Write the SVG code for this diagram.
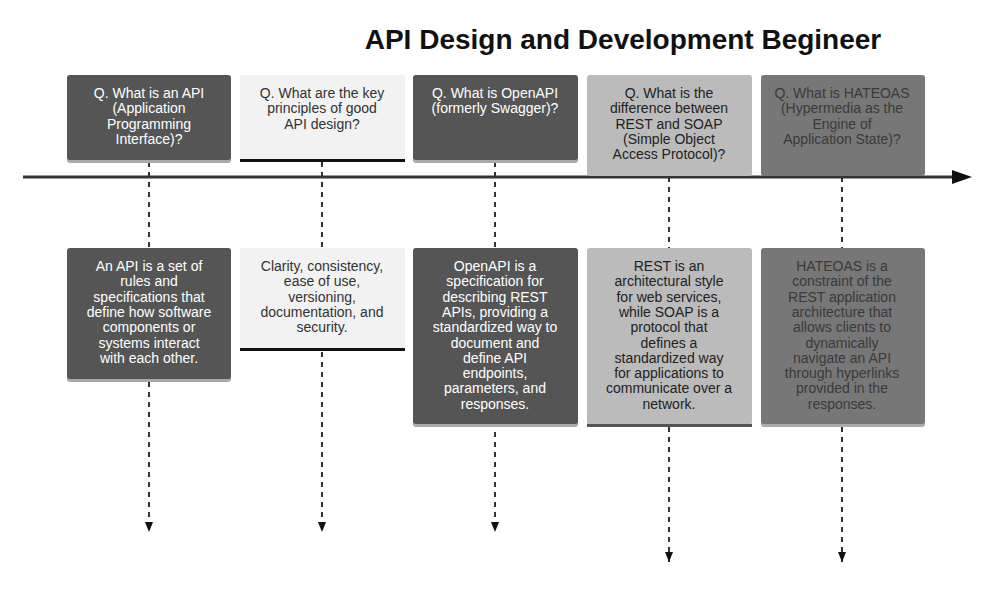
<svg xmlns="http://www.w3.org/2000/svg" width="996" height="590" viewBox="0 0 996 590">
<style>
.t{font-family:"Liberation Sans",Arial,sans-serif;font-size:14px;text-anchor:middle}
.w{fill:#ffffff}.k{fill:#333333}.k2{fill:#222222}.k3{fill:#3a3a3a}
.title{font-family:"Liberation Sans",Arial,sans-serif;font-size:28px;font-weight:bold;fill:#111}
.dash{stroke:#333;stroke-width:2;stroke-dasharray:5,5;fill:none}
.dk{fill:#555555}.lt{fill:#f2f2f2}.md{fill:#bbbbbb}.mg{fill:#777777}
.sh{fill:#aaaaaa}
</style>
<defs>
<marker id="ah" markerWidth="10" markerHeight="8" refX="10" refY="4" orient="auto" markerUnits="userSpaceOnUse" viewBox="0 0 10 8">
<path d="M0,0 L10,4 L0,8 Z" fill="#111"/>
</marker>
</defs>
<rect width="996" height="590" fill="#fff"/>
<text class="title" x="623" y="49" text-anchor="middle">API Design and Development Begineer</text>
<g id="connectors">
<line class="dash" x1="149" y1="162" x2="149" y2="532" marker-end="url(#ah)"/>
<line class="dash" x1="322" y1="162" x2="322" y2="532" marker-end="url(#ah)"/>
<line class="dash" x1="495" y1="162" x2="495" y2="532" marker-end="url(#ah)"/>
<line class="dash" x1="669" y1="177" x2="669" y2="562" marker-end="url(#ah)"/>
<line class="dash" x1="842" y1="177" x2="842" y2="562" marker-end="url(#ah)"/>
</g>
<g id="axis">
<line x1="23" y1="177" x2="955" y2="177" stroke="#333" stroke-width="3"/>
<path d="M952,170 L972,177 L952,184 Z" fill="#111"/>
</g>
<g id="q1">
<rect class="sh" x="67" y="76" width="164" height="87" rx="3"/>
<rect class="dk" x="67" y="75" width="164" height="85" rx="3"/>
<text class="t w" x="149" y="98">Q. What is an API<tspan x="149" dy="15.3">(Application</tspan><tspan x="149" dy="15.3">Programming</tspan><tspan x="149" dy="15.3">Interface)?</tspan></text>
</g>
<g id="q2">
<rect class="lt" x="240" y="75" width="165" height="86" rx="3"/>
<rect x="240" y="159" width="165" height="3" fill="#111"/>
<text class="t k" x="322" y="98">Q. What are the key<tspan x="322" dy="15.3">principles of good</tspan><tspan x="322" dy="15.3">API design?</tspan></text>
</g>
<g id="q3">
<rect class="sh" x="413" y="76" width="165" height="87" rx="3"/>
<rect class="dk" x="413" y="75" width="165" height="85" rx="3"/>
<text class="t w" x="495" y="98">Q. What is OpenAPI<tspan x="495" dy="15.3">(formerly Swagger)?</tspan></text>
</g>
<g id="q4">
<rect class="md" x="587" y="75" width="165" height="101" rx="3"/>
<text class="t k2" x="669" y="98">Q. What is the<tspan x="669" dy="15.3">difference between</tspan><tspan x="669" dy="15.3">REST and SOAP</tspan><tspan x="669" dy="15.3">(Simple Object</tspan><tspan x="669" dy="15.3">Access Protocol)?</tspan></text>
</g>
<g id="q5">
<rect class="mg" x="761" y="75" width="164" height="101" rx="3"/>
<text class="t k3" x="842" y="98">Q. What is HATEOAS<tspan x="842" dy="15.3">(Hypermedia as the</tspan><tspan x="842" dy="15.3">Engine of</tspan><tspan x="842" dy="15.3">Application State)?</tspan></text>
</g>
<g id="a1">
<rect class="sh" x="67" y="249" width="164" height="133" rx="3"/>
<rect class="dk" x="67" y="248" width="164" height="131" rx="3"/>
<text class="t w" x="149" y="271">An API is a set of<tspan x="149" dy="15.3">rules and</tspan><tspan x="149" dy="15.3">specifications that</tspan><tspan x="149" dy="15.3">define how software</tspan><tspan x="149" dy="15.3">components or</tspan><tspan x="149" dy="15.3">systems interact</tspan><tspan x="149" dy="15.3">with each other.</tspan></text>
</g>
<g id="a2">
<rect class="lt" x="240" y="248" width="165" height="102" rx="3"/>
<rect x="240" y="348" width="165" height="3" fill="#111"/>
<text class="t k" x="322" y="271">Clarity, consistency,<tspan x="322" dy="15.3">ease of use,</tspan><tspan x="322" dy="15.3">versioning,</tspan><tspan x="322" dy="15.3">documentation, and</tspan><tspan x="322" dy="15.3">security.</tspan></text>
</g>
<g id="a3">
<rect class="sh" x="413" y="249" width="165" height="178" rx="3"/>
<rect class="dk" x="413" y="248" width="165" height="176" rx="3"/>
<text class="t w" x="495" y="271">OpenAPI is a<tspan x="495" dy="15.3">specification for</tspan><tspan x="495" dy="15.3">describing REST</tspan><tspan x="495" dy="15.3">APIs, providing a</tspan><tspan x="495" dy="15.3">standardized way to</tspan><tspan x="495" dy="15.3">document and</tspan><tspan x="495" dy="15.3">define API</tspan><tspan x="495" dy="15.3">endpoints,</tspan><tspan x="495" dy="15.3">parameters, and</tspan><tspan x="495" dy="15.3">responses.</tspan></text>
</g>
<g id="a4">
<rect class="md" x="587" y="248" width="165" height="177" rx="3"/>
<rect x="587" y="424" width="165" height="3" fill="#555"/>
<text class="t k2" x="669" y="271">REST is an<tspan x="669" dy="15.3">architectural style</tspan><tspan x="669" dy="15.3">for web services,</tspan><tspan x="669" dy="15.3">while SOAP is a</tspan><tspan x="669" dy="15.3">protocol that</tspan><tspan x="669" dy="15.3">defines a</tspan><tspan x="669" dy="15.3">standardized way</tspan><tspan x="669" dy="15.3">for applications to</tspan><tspan x="669" dy="15.3">communicate over a</tspan><tspan x="669" dy="15.3">network.</tspan></text>
</g>
<g id="a5">
<rect class="sh" x="761" y="249" width="164" height="178" rx="3"/>
<rect class="mg" x="761" y="248" width="164" height="176" rx="3"/>
<text class="t k3" x="842" y="271">HATEOAS is a<tspan x="842" dy="15.3">constraint of the</tspan><tspan x="842" dy="15.3">REST application</tspan><tspan x="842" dy="15.3">architecture that</tspan><tspan x="842" dy="15.3">allows clients to</tspan><tspan x="842" dy="15.3">dynamically</tspan><tspan x="842" dy="15.3">navigate an API</tspan><tspan x="842" dy="15.3">through hyperlinks</tspan><tspan x="842" dy="15.3">provided in the</tspan><tspan x="842" dy="15.3">responses.</tspan></text>
</g>
</svg>
